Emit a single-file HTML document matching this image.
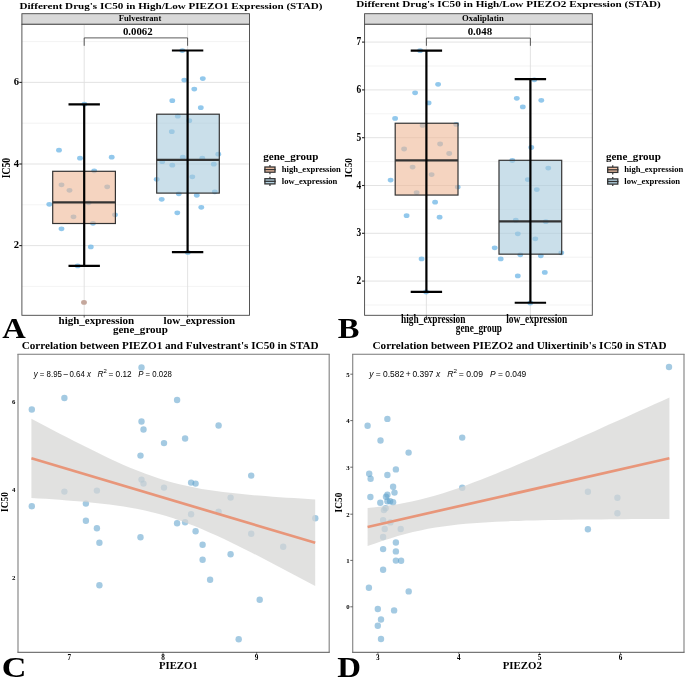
<!DOCTYPE html>
<html><head><meta charset="utf-8"><title>Figure</title>
<style>html,body{margin:0;padding:0;background:#fff}svg{display:block}</style></head>
<body><svg width="685" height="678" viewBox="0 0 685 678">
<rect width="685" height="678" fill="#fff"/>
<text x="19.4" y="9.3" font-size="9.2" text-anchor="start" style="font-family:'Liberation Serif',serif;font-weight:bold" fill="#000" textLength="303.2" lengthAdjust="spacingAndGlyphs">Different Drug's IC50 in High/Low PIEZO1 Expression (STAD)</text>
<rect x="21.9" y="13.7" width="227.6" height="10.600000000000001" fill="#d9d9d9" stroke="#444" stroke-width="0.9"/>
<text x="118.7" y="21.3" font-size="7.3" text-anchor="start" style="font-family:'Liberation Serif',serif;font-weight:bold" fill="#000" textLength="42.6" lengthAdjust="spacingAndGlyphs">Fulvestrant</text>
<rect x="21.9" y="24.3" width="227.6" height="291.0" fill="#fff"/>
<line x1="21.9" x2="249.5" y1="41.6" y2="41.6" stroke="#ebebeb" stroke-width="0.6"/>
<line x1="21.9" x2="249.5" y1="123.2" y2="123.2" stroke="#ebebeb" stroke-width="0.6"/>
<line x1="21.9" x2="249.5" y1="204.8" y2="204.8" stroke="#ebebeb" stroke-width="0.6"/>
<line x1="21.9" x2="249.5" y1="286.4" y2="286.4" stroke="#ebebeb" stroke-width="0.6"/>
<line x1="21.9" x2="249.5" y1="82.4" y2="82.4" stroke="#e0e0e0" stroke-width="0.9"/>
<line x1="21.9" x2="249.5" y1="164.0" y2="164.0" stroke="#e0e0e0" stroke-width="0.9"/>
<line x1="21.9" x2="249.5" y1="245.6" y2="245.6" stroke="#e0e0e0" stroke-width="0.9"/>
<line x1="84.2" x2="84.2" y1="24.3" y2="315.3" stroke="#e0e0e0" stroke-width="0.9"/>
<line x1="187.6" x2="187.6" y1="24.3" y2="315.3" stroke="#e0e0e0" stroke-width="0.9"/>
<g fill="#6db5e6" fill-opacity="0.75">
<ellipse cx="59.0" cy="150.2" rx="2.9" ry="2.4"/>
<ellipse cx="80.0" cy="158.2" rx="2.9" ry="2.4"/>
<ellipse cx="111.7" cy="157.2" rx="2.9" ry="2.4"/>
<ellipse cx="84.4" cy="104.2" rx="2.9" ry="2.4"/>
<ellipse cx="94.2" cy="170.8" rx="2.9" ry="2.4"/>
<ellipse cx="61.5" cy="184.8" rx="2.9" ry="2.4"/>
<ellipse cx="69.5" cy="190.3" rx="2.9" ry="2.4"/>
<ellipse cx="107.2" cy="186.8" rx="2.9" ry="2.4"/>
<ellipse cx="49.3" cy="204.3" rx="2.9" ry="2.4"/>
<ellipse cx="88.6" cy="202.8" rx="2.9" ry="2.4"/>
<ellipse cx="73.5" cy="216.8" rx="2.9" ry="2.4"/>
<ellipse cx="115.0" cy="214.8" rx="2.9" ry="2.4"/>
<ellipse cx="93.0" cy="223.3" rx="2.9" ry="2.4"/>
<ellipse cx="61.5" cy="228.8" rx="2.9" ry="2.4"/>
<ellipse cx="90.8" cy="246.9" rx="2.9" ry="2.4"/>
<ellipse cx="77.7" cy="265.9" rx="2.9" ry="2.4"/>
<ellipse cx="182.3" cy="50.6" rx="2.9" ry="2.4"/>
<ellipse cx="184.3" cy="80.1" rx="2.9" ry="2.4"/>
<ellipse cx="202.8" cy="78.6" rx="2.9" ry="2.4"/>
<ellipse cx="194.3" cy="89.1" rx="2.9" ry="2.4"/>
<ellipse cx="172.3" cy="100.7" rx="2.9" ry="2.4"/>
<ellipse cx="200.8" cy="107.7" rx="2.9" ry="2.4"/>
<ellipse cx="177.8" cy="116.2" rx="2.9" ry="2.4"/>
<ellipse cx="189.3" cy="120.7" rx="2.9" ry="2.4"/>
<ellipse cx="171.8" cy="131.7" rx="2.9" ry="2.4"/>
<ellipse cx="218.3" cy="154.2" rx="2.9" ry="2.4"/>
<ellipse cx="182.8" cy="157.2" rx="2.9" ry="2.4"/>
<ellipse cx="202.3" cy="158.2" rx="2.9" ry="2.4"/>
<ellipse cx="162.2" cy="161.7" rx="2.9" ry="2.4"/>
<ellipse cx="172.3" cy="165.2" rx="2.9" ry="2.4"/>
<ellipse cx="213.8" cy="164.2" rx="2.9" ry="2.4"/>
<ellipse cx="156.7" cy="179.3" rx="2.9" ry="2.4"/>
<ellipse cx="192.3" cy="176.8" rx="2.9" ry="2.4"/>
<ellipse cx="178.8" cy="193.8" rx="2.9" ry="2.4"/>
<ellipse cx="196.8" cy="195.3" rx="2.9" ry="2.4"/>
<ellipse cx="214.8" cy="191.8" rx="2.9" ry="2.4"/>
<ellipse cx="161.7" cy="199.3" rx="2.9" ry="2.4"/>
<ellipse cx="201.3" cy="207.3" rx="2.9" ry="2.4"/>
<ellipse cx="177.3" cy="212.8" rx="2.9" ry="2.4"/>
<ellipse cx="187.8" cy="252.4" rx="2.9" ry="2.4"/>
</g>
<rect x="52.7" y="171.3" width="62.7" height="52.19999999999999" fill="#EEB796" fill-opacity="0.6" stroke="#333" stroke-width="1.2"/>
<line x1="52.7" x2="115.4" y1="202.4" y2="202.4" stroke="#333" stroke-width="2.2"/>
<path d="M68.5 104.3H99.9M68.5 265.9H99.9M84.2 104.3V265.9" stroke="#000" stroke-width="2.2" fill="none"/>
<rect x="156.7" y="114.2" width="62.60000000000002" height="78.89999999999999" fill="#A7CADC" fill-opacity="0.6" stroke="#333" stroke-width="1.2"/>
<line x1="156.7" x2="219.3" y1="159.8" y2="159.8" stroke="#333" stroke-width="2.2"/>
<path d="M171.9 50.5H203.29999999999998M171.9 252.2H203.29999999999998M187.6 50.5V252.2" stroke="#000" stroke-width="2.2" fill="none"/>
<ellipse cx="84" cy="302.4" rx="2.9" ry="2.4" fill="#c4a79c"/>
<path d="M84.2 45.8V37.9H187.6V45.8" stroke="#333" stroke-width="0.8" fill="none"/>
<text x="122.9" y="35.4" font-size="9.5" text-anchor="start" style="font-family:'Liberation Serif',serif;font-weight:bold" fill="#000" textLength="29.7" lengthAdjust="spacingAndGlyphs">0.0062</text>
<rect x="21.9" y="24.3" width="227.6" height="291.0" fill="none" stroke="#444" stroke-width="0.9"/>
<line x1="19.299999999999997" x2="21.9" y1="82.4" y2="82.4" stroke="#222" stroke-width="1.1"/>
<text x="13.7" y="85.10000000000001" font-size="10.6" text-anchor="start" style="font-family:'Liberation Serif',serif;font-weight:bold" fill="#000" textLength="5.3" lengthAdjust="spacingAndGlyphs">6</text>
<line x1="19.299999999999997" x2="21.9" y1="164.0" y2="164.0" stroke="#222" stroke-width="1.1"/>
<text x="13.7" y="166.7" font-size="10.6" text-anchor="start" style="font-family:'Liberation Serif',serif;font-weight:bold" fill="#000" textLength="5.3" lengthAdjust="spacingAndGlyphs">4</text>
<line x1="19.299999999999997" x2="21.9" y1="245.6" y2="245.6" stroke="#222" stroke-width="1.1"/>
<text x="13.7" y="248.29999999999998" font-size="10.6" text-anchor="start" style="font-family:'Liberation Serif',serif;font-weight:bold" fill="#000" textLength="5.3" lengthAdjust="spacingAndGlyphs">2</text>
<line x1="84.2" x2="84.2" y1="315.3" y2="317.5" stroke="#333" stroke-width="0.8"/>
<line x1="187.6" x2="187.6" y1="315.3" y2="317.5" stroke="#333" stroke-width="0.8"/>
<text transform="translate(10.0 178.2) scale(1.28 1) rotate(-90)" font-size="9.2" text-anchor="start" style="font-family:'Liberation Serif',serif;font-weight:bold" fill="#000" textLength="20.4" lengthAdjust="spacingAndGlyphs">IC50</text>
<text x="58.5" y="323.5" font-size="9.9" text-anchor="start" style="font-family:'Liberation Serif',serif;font-weight:bold" fill="#000" textLength="75.7" lengthAdjust="spacingAndGlyphs">high_expression</text>
<text x="163.6" y="323.5" font-size="9.9" text-anchor="start" style="font-family:'Liberation Serif',serif;font-weight:bold" fill="#000" textLength="71.6" lengthAdjust="spacingAndGlyphs">low_expression</text>
<text x="112.9" y="332.5" font-size="11" text-anchor="start" style="font-family:'Liberation Serif',serif;font-weight:bold" fill="#000" textLength="55" lengthAdjust="spacingAndGlyphs">gene_group</text>
<text x="263.2" y="159.5" font-size="11" text-anchor="start" style="font-family:'Liberation Serif',serif;font-weight:bold" fill="#000" textLength="55.2" lengthAdjust="spacingAndGlyphs">gene_group</text>
<line x1="269.95" x2="269.95" y1="165.0" y2="174.20000000000002" stroke="#333" stroke-width="1.2"/>
<rect x="264.9" y="167.0" width="10.1" height="5.2" fill="#fff"/>
<rect x="264.9" y="167.0" width="10.1" height="5.2" fill="#EEB796" fill-opacity="0.85" stroke="#333" stroke-width="1.3"/>
<line x1="264.2" x2="275.7" y1="169.60000000000002" y2="169.60000000000002" stroke="#333" stroke-width="1.3"/>
<text x="281.8" y="171.9" font-size="7.5" text-anchor="start" style="font-family:'Liberation Serif',serif;font-weight:bold" fill="#000" textLength="59.1" lengthAdjust="spacingAndGlyphs">high_expression</text>
<line x1="269.95" x2="269.95" y1="176.7" y2="185.9" stroke="#333" stroke-width="1.2"/>
<rect x="264.9" y="178.7" width="10.1" height="5.2" fill="#fff"/>
<rect x="264.9" y="178.7" width="10.1" height="5.2" fill="#A7CADC" fill-opacity="0.85" stroke="#333" stroke-width="1.3"/>
<line x1="264.2" x2="275.7" y1="181.3" y2="181.3" stroke="#333" stroke-width="1.3"/>
<text x="281.8" y="183.5" font-size="7.5" text-anchor="start" style="font-family:'Liberation Serif',serif;font-weight:bold" fill="#000" textLength="55.6" lengthAdjust="spacingAndGlyphs">low_expression</text>
<text x="356.3" y="6.9" font-size="9.0" text-anchor="start" style="font-family:'Liberation Serif',serif;font-weight:bold" fill="#000" textLength="304.5" lengthAdjust="spacingAndGlyphs">Different Drug's IC50 in High/Low PIEZO2 Expression (STAD)</text>
<rect x="364.6" y="13.7" width="227.69999999999993" height="10.600000000000001" fill="#d9d9d9" stroke="#444" stroke-width="0.9"/>
<text x="461.9" y="21.3" font-size="7.3" text-anchor="start" style="font-family:'Liberation Serif',serif;font-weight:bold" fill="#000" textLength="41.9" lengthAdjust="spacingAndGlyphs">Oxaliplatin</text>
<rect x="364.6" y="24.3" width="227.69999999999993" height="291.0" fill="#fff"/>
<line x1="364.6" x2="592.3" y1="66" y2="66" stroke="#ebebeb" stroke-width="0.6"/>
<line x1="364.6" x2="592.3" y1="113.8" y2="113.8" stroke="#ebebeb" stroke-width="0.6"/>
<line x1="364.6" x2="592.3" y1="161.6" y2="161.6" stroke="#ebebeb" stroke-width="0.6"/>
<line x1="364.6" x2="592.3" y1="209.4" y2="209.4" stroke="#ebebeb" stroke-width="0.6"/>
<line x1="364.6" x2="592.3" y1="257.2" y2="257.2" stroke="#ebebeb" stroke-width="0.6"/>
<line x1="364.6" x2="592.3" y1="305" y2="305" stroke="#ebebeb" stroke-width="0.6"/>
<line x1="364.6" x2="592.3" y1="42.1" y2="42.1" stroke="#e0e0e0" stroke-width="0.9"/>
<line x1="364.6" x2="592.3" y1="89.9" y2="89.9" stroke="#e0e0e0" stroke-width="0.9"/>
<line x1="364.6" x2="592.3" y1="137.7" y2="137.7" stroke="#e0e0e0" stroke-width="0.9"/>
<line x1="364.6" x2="592.3" y1="185.5" y2="185.5" stroke="#e0e0e0" stroke-width="0.9"/>
<line x1="364.6" x2="592.3" y1="233.3" y2="233.3" stroke="#e0e0e0" stroke-width="0.9"/>
<line x1="364.6" x2="592.3" y1="281.1" y2="281.1" stroke="#e0e0e0" stroke-width="0.9"/>
<line x1="426.4" x2="426.4" y1="24.3" y2="315.3" stroke="#e0e0e0" stroke-width="0.9"/>
<line x1="530.4" x2="530.4" y1="24.3" y2="315.3" stroke="#e0e0e0" stroke-width="0.9"/>
<g fill="#6db5e6" fill-opacity="0.75">
<ellipse cx="420.1" cy="50.7" rx="2.9" ry="2.4"/>
<ellipse cx="438.1" cy="84.3" rx="2.9" ry="2.4"/>
<ellipse cx="415.1" cy="92.8" rx="2.9" ry="2.4"/>
<ellipse cx="428.6" cy="102.9" rx="2.9" ry="2.4"/>
<ellipse cx="395.1" cy="118.4" rx="2.9" ry="2.4"/>
<ellipse cx="422.6" cy="125.4" rx="2.9" ry="2.4"/>
<ellipse cx="456.2" cy="124.4" rx="2.9" ry="2.4"/>
<ellipse cx="404.1" cy="149.0" rx="2.9" ry="2.4"/>
<ellipse cx="440.1" cy="144.0" rx="2.9" ry="2.4"/>
<ellipse cx="449.2" cy="153.5" rx="2.9" ry="2.4"/>
<ellipse cx="412.6" cy="167.1" rx="2.9" ry="2.4"/>
<ellipse cx="431.6" cy="174.6" rx="2.9" ry="2.4"/>
<ellipse cx="390.6" cy="180.1" rx="2.9" ry="2.4"/>
<ellipse cx="457.7" cy="187.1" rx="2.9" ry="2.4"/>
<ellipse cx="416.6" cy="192.6" rx="2.9" ry="2.4"/>
<ellipse cx="435.1" cy="202.2" rx="2.9" ry="2.4"/>
<ellipse cx="406.6" cy="215.7" rx="2.9" ry="2.4"/>
<ellipse cx="439.6" cy="217.2" rx="2.9" ry="2.4"/>
<ellipse cx="421.6" cy="258.9" rx="2.9" ry="2.4"/>
<ellipse cx="426.1" cy="292.0" rx="2.9" ry="2.4"/>
<ellipse cx="534.3" cy="79.8" rx="2.9" ry="2.4"/>
<ellipse cx="516.8" cy="98.3" rx="2.9" ry="2.4"/>
<ellipse cx="541.3" cy="100.3" rx="2.9" ry="2.4"/>
<ellipse cx="522.8" cy="106.9" rx="2.9" ry="2.4"/>
<ellipse cx="531.3" cy="147.5" rx="2.9" ry="2.4"/>
<ellipse cx="512.3" cy="160.5" rx="2.9" ry="2.4"/>
<ellipse cx="548.3" cy="168.1" rx="2.9" ry="2.4"/>
<ellipse cx="527.8" cy="179.6" rx="2.9" ry="2.4"/>
<ellipse cx="536.8" cy="189.6" rx="2.9" ry="2.4"/>
<ellipse cx="515.8" cy="220.2" rx="2.9" ry="2.4"/>
<ellipse cx="545.8" cy="221.7" rx="2.9" ry="2.4"/>
<ellipse cx="517.8" cy="233.8" rx="2.9" ry="2.4"/>
<ellipse cx="535.3" cy="238.8" rx="2.9" ry="2.4"/>
<ellipse cx="494.7" cy="247.8" rx="2.9" ry="2.4"/>
<ellipse cx="561.3" cy="252.8" rx="2.9" ry="2.4"/>
<ellipse cx="500.7" cy="258.9" rx="2.9" ry="2.4"/>
<ellipse cx="520.3" cy="254.8" rx="2.9" ry="2.4"/>
<ellipse cx="540.8" cy="255.8" rx="2.9" ry="2.4"/>
<ellipse cx="544.8" cy="272.4" rx="2.9" ry="2.4"/>
<ellipse cx="517.8" cy="275.9" rx="2.9" ry="2.4"/>
<ellipse cx="530.3" cy="303.0" rx="2.9" ry="2.4"/>
</g>
<rect x="395.2" y="123.24" width="62.80000000000001" height="71.82000000000001" fill="#EEB796" fill-opacity="0.6" stroke="#333" stroke-width="1.2"/>
<line x1="395.2" x2="458" y1="160.3" y2="160.3" stroke="#333" stroke-width="2.2"/>
<path d="M410.7 50.61H442.09999999999997M410.7 291.82H442.09999999999997M426.4 50.61V291.82" stroke="#000" stroke-width="2.2" fill="none"/>
<rect x="499" y="160.3" width="62.700000000000045" height="93.85999999999999" fill="#A7CADC" fill-opacity="0.6" stroke="#333" stroke-width="1.2"/>
<line x1="499" x2="561.7" y1="221.4" y2="221.4" stroke="#333" stroke-width="2.2"/>
<path d="M514.6999999999999 79.16H546.1M514.6999999999999 302.74H546.1M530.4 79.16V302.74" stroke="#000" stroke-width="2.2" fill="none"/>
<path d="M426.4 45.8V38.1H530.4V45.8" stroke="#333" stroke-width="0.8" fill="none"/>
<text x="467.7" y="35.4" font-size="9.5" text-anchor="start" style="font-family:'Liberation Serif',serif;font-weight:bold" fill="#000" textLength="24.4" lengthAdjust="spacingAndGlyphs">0.048</text>
<rect x="364.6" y="24.3" width="227.69999999999993" height="291.0" fill="none" stroke="#444" stroke-width="0.9"/>
<line x1="362.0" x2="364.6" y1="42.1" y2="42.1" stroke="#222" stroke-width="1.1"/>
<text x="356.6" y="45.1" font-size="13" text-anchor="start" style="font-family:'Liberation Serif',serif;font-weight:bold" fill="#000" textLength="4.7" lengthAdjust="spacingAndGlyphs">7</text>
<line x1="362.0" x2="364.6" y1="89.9" y2="89.9" stroke="#222" stroke-width="1.1"/>
<text x="356.6" y="92.9" font-size="13" text-anchor="start" style="font-family:'Liberation Serif',serif;font-weight:bold" fill="#000" textLength="4.7" lengthAdjust="spacingAndGlyphs">6</text>
<line x1="362.0" x2="364.6" y1="137.7" y2="137.7" stroke="#222" stroke-width="1.1"/>
<text x="356.6" y="140.7" font-size="13" text-anchor="start" style="font-family:'Liberation Serif',serif;font-weight:bold" fill="#000" textLength="4.7" lengthAdjust="spacingAndGlyphs">5</text>
<line x1="362.0" x2="364.6" y1="185.5" y2="185.5" stroke="#222" stroke-width="1.1"/>
<text x="356.6" y="188.5" font-size="13" text-anchor="start" style="font-family:'Liberation Serif',serif;font-weight:bold" fill="#000" textLength="4.7" lengthAdjust="spacingAndGlyphs">4</text>
<line x1="362.0" x2="364.6" y1="233.3" y2="233.3" stroke="#222" stroke-width="1.1"/>
<text x="356.6" y="236.3" font-size="13" text-anchor="start" style="font-family:'Liberation Serif',serif;font-weight:bold" fill="#000" textLength="4.7" lengthAdjust="spacingAndGlyphs">3</text>
<line x1="362.0" x2="364.6" y1="281.1" y2="281.1" stroke="#222" stroke-width="1.1"/>
<text x="356.6" y="284.1" font-size="13" text-anchor="start" style="font-family:'Liberation Serif',serif;font-weight:bold" fill="#000" textLength="4.7" lengthAdjust="spacingAndGlyphs">2</text>
<line x1="426.4" x2="426.4" y1="315.3" y2="317.5" stroke="#333" stroke-width="0.8"/>
<line x1="530.4" x2="530.4" y1="315.3" y2="317.5" stroke="#333" stroke-width="0.8"/>
<text transform="translate(352.4 177.6) scale(1.2 1) rotate(-90)" font-size="9.2" text-anchor="start" style="font-family:'Liberation Serif',serif;font-weight:bold" fill="#000" textLength="19.5" lengthAdjust="spacingAndGlyphs">IC50</text>
<text x="401.0" y="323.3" font-size="11.6" text-anchor="start" style="font-family:'Liberation Serif',serif;font-weight:bold" fill="#000" textLength="64.5" lengthAdjust="spacingAndGlyphs">high_expression</text>
<text x="506.2" y="323.3" font-size="11.6" text-anchor="start" style="font-family:'Liberation Serif',serif;font-weight:bold" fill="#000" textLength="61.1" lengthAdjust="spacingAndGlyphs">low_expression</text>
<text x="455.8" y="332.2" font-size="11.6" text-anchor="start" style="font-family:'Liberation Serif',serif;font-weight:bold" fill="#000" textLength="46.2" lengthAdjust="spacingAndGlyphs">gene_group</text>
<text x="605.9" y="159.5" font-size="11" text-anchor="start" style="font-family:'Liberation Serif',serif;font-weight:bold" fill="#000" textLength="55" lengthAdjust="spacingAndGlyphs">gene_group</text>
<line x1="612.75" x2="612.75" y1="165.2" y2="174.4" stroke="#333" stroke-width="1.2"/>
<rect x="607.7" y="167.2" width="10.1" height="5.2" fill="#fff"/>
<rect x="607.7" y="167.2" width="10.1" height="5.2" fill="#EEB796" fill-opacity="0.85" stroke="#333" stroke-width="1.3"/>
<line x1="607.0" x2="618.5" y1="169.8" y2="169.8" stroke="#333" stroke-width="1.3"/>
<text x="624.3" y="171.9" font-size="7.5" text-anchor="start" style="font-family:'Liberation Serif',serif;font-weight:bold" fill="#000" textLength="59" lengthAdjust="spacingAndGlyphs">high_expression</text>
<line x1="612.75" x2="612.75" y1="176.89999999999998" y2="186.1" stroke="#333" stroke-width="1.2"/>
<rect x="607.7" y="178.89999999999998" width="10.1" height="5.2" fill="#fff"/>
<rect x="607.7" y="178.89999999999998" width="10.1" height="5.2" fill="#A7CADC" fill-opacity="0.85" stroke="#333" stroke-width="1.3"/>
<line x1="607.0" x2="618.5" y1="181.5" y2="181.5" stroke="#333" stroke-width="1.3"/>
<text x="624.3" y="183.5" font-size="7.5" text-anchor="start" style="font-family:'Liberation Serif',serif;font-weight:bold" fill="#000" textLength="55.7" lengthAdjust="spacingAndGlyphs">low_expression</text>
<text x="21.7" y="348.8" font-size="9.8" text-anchor="start" style="font-family:'Liberation Serif',serif;font-weight:bold" fill="#000" textLength="297" lengthAdjust="spacingAndGlyphs">Correlation between PIEZO1 and Fulvestrant's IC50 in STAD</text>
<rect x="18.0" y="354.2" width="311.2" height="297.8" fill="#fff"/>
<g fill="#5a9fca" fill-opacity="0.55">
<circle cx="31.8" cy="409.5" r="3.2"/>
<circle cx="31.8" cy="506.2" r="3.2"/>
<circle cx="64.4" cy="398.0" r="3.2"/>
<circle cx="64.4" cy="491.6" r="3.2"/>
<circle cx="85.9" cy="503.6" r="3.2"/>
<circle cx="85.9" cy="520.7" r="3.2"/>
<circle cx="96.9" cy="490.6" r="3.2"/>
<circle cx="96.9" cy="528.2" r="3.2"/>
<circle cx="99.4" cy="542.7" r="3.2"/>
<circle cx="99.4" cy="585.3" r="3.2"/>
<circle cx="141.5" cy="367.4" r="3.2"/>
<circle cx="141.5" cy="421.5" r="3.2"/>
<circle cx="143.5" cy="429.5" r="3.2"/>
<circle cx="140.5" cy="455.6" r="3.2"/>
<circle cx="141.5" cy="479.6" r="3.2"/>
<circle cx="143.5" cy="483.6" r="3.2"/>
<circle cx="140.5" cy="537.2" r="3.2"/>
<circle cx="164.0" cy="443.1" r="3.2"/>
<circle cx="164.0" cy="487.6" r="3.2"/>
<circle cx="177.1" cy="400.0" r="3.2"/>
<circle cx="177.1" cy="523.2" r="3.2"/>
<circle cx="185.1" cy="438.5" r="3.2"/>
<circle cx="185.1" cy="522.2" r="3.2"/>
<circle cx="191.1" cy="482.6" r="3.2"/>
<circle cx="195.6" cy="483.6" r="3.2"/>
<circle cx="191.1" cy="514.2" r="3.2"/>
<circle cx="195.6" cy="531.2" r="3.2"/>
<circle cx="202.6" cy="544.7" r="3.2"/>
<circle cx="202.6" cy="559.7" r="3.2"/>
<circle cx="210.1" cy="579.8" r="3.2"/>
<circle cx="218.6" cy="425.5" r="3.2"/>
<circle cx="218.6" cy="511.7" r="3.2"/>
<circle cx="230.6" cy="497.6" r="3.2"/>
<circle cx="230.6" cy="554.2" r="3.2"/>
<circle cx="238.7" cy="639.3" r="3.2"/>
<circle cx="251.2" cy="475.6" r="3.2"/>
<circle cx="251.2" cy="533.7" r="3.2"/>
<circle cx="259.7" cy="599.8" r="3.2"/>
<circle cx="283.2" cy="546.7" r="3.2"/>
<circle cx="315.3" cy="518.2" r="3.2"/>
</g>
<path d="M31.4 418.7 L38.5 422.4 L45.6 426.2 L52.7 429.9 L59.8 433.7 L66.9 437.3 L74.0 441.0 L81.1 444.6 L88.2 448.1 L95.3 451.6 L102.3 455.1 L109.4 458.4 L116.5 461.7 L123.6 464.9 L130.7 467.9 L137.8 470.8 L144.9 473.6 L152.0 476.1 L159.1 478.5 L166.2 480.7 L173.3 482.7 L180.4 484.5 L187.5 486.1 L194.6 487.6 L201.7 488.9 L208.8 490.0 L215.9 491.0 L223.0 492.0 L230.1 492.8 L237.2 493.6 L244.2 494.3 L251.3 495.0 L258.4 495.6 L265.5 496.1 L272.6 496.7 L279.7 497.2 L286.8 497.7 L293.9 498.1 L301.0 498.6 L308.1 499.0 L315.2 499.4 L315.2 586.1 L308.1 582.3 L301.0 578.5 L293.9 574.7 L286.8 570.9 L279.7 567.2 L272.6 563.5 L265.5 559.8 L258.4 556.1 L251.3 552.5 L244.2 549.0 L237.2 545.5 L230.1 542.0 L223.0 538.6 L215.9 535.3 L208.8 532.2 L201.7 529.1 L194.6 526.1 L187.5 523.4 L180.4 520.8 L173.3 518.3 L166.2 516.1 L159.1 514.1 L152.0 512.2 L144.9 510.6 L137.8 509.1 L130.7 507.8 L123.6 506.6 L116.5 505.6 L109.4 504.6 L102.3 503.7 L95.3 503.0 L88.2 502.2 L81.1 501.6 L74.0 501.0 L66.9 500.4 L59.8 499.8 L52.7 499.3 L45.6 498.8 L38.5 498.4 L31.4 497.9Z" fill="#d6d6d4" fill-opacity="0.72"/>
<line x1="31.4" y1="458.3" x2="315.2" y2="542.8" stroke="#e8967a" stroke-width="2.7"/>
<path d="M18.0 354.2V652.3M329.2 354.2V652.3" fill="none" stroke="#8a8a8a" stroke-width="1.2"/>
<path d="M17.4 354.2H329.8" fill="none" stroke="#777" stroke-width="1.1"/>
<path d="M17.4 652.3H329.8" fill="none" stroke="#555" stroke-width="1"/>
<text x="11.9" y="403.6" font-size="6.8" text-anchor="start" style="font-family:'Liberation Serif',serif;font-weight:bold" fill="#000" textLength="3.4" lengthAdjust="spacingAndGlyphs">6</text>
<text x="11.9" y="491.7" font-size="6.8" text-anchor="start" style="font-family:'Liberation Serif',serif;font-weight:bold" fill="#000" textLength="3.4" lengthAdjust="spacingAndGlyphs">4</text>
<text x="11.9" y="579.7" font-size="6.8" text-anchor="start" style="font-family:'Liberation Serif',serif;font-weight:bold" fill="#000" textLength="3.4" lengthAdjust="spacingAndGlyphs">2</text>
<text x="67.60000000000001" y="659.8" font-size="7.8" text-anchor="start" style="font-family:'Liberation Serif',serif;font-weight:bold" fill="#000" textLength="3.6" lengthAdjust="spacingAndGlyphs">7</text>
<line x1="163.0" x2="163.0" y1="652.0" y2="654.2" stroke="#444" stroke-width="0.7"/>
<text x="161.2" y="659.8" font-size="7.8" text-anchor="start" style="font-family:'Liberation Serif',serif;font-weight:bold" fill="#000" textLength="3.6" lengthAdjust="spacingAndGlyphs">8</text>
<line x1="256.6" x2="256.6" y1="652.0" y2="654.2" stroke="#444" stroke-width="0.7"/>
<text x="254.8" y="659.8" font-size="7.8" text-anchor="start" style="font-family:'Liberation Serif',serif;font-weight:bold" fill="#000" textLength="3.6" lengthAdjust="spacingAndGlyphs">9</text>
<text x="33.7" y="376.8" font-size="8.6" style="font-family:'Liberation Sans',sans-serif;font-weight:normal" fill="#000" textLength="57.2" lengthAdjust="spacingAndGlyphs"><tspan font-style="italic">y</tspan> = 8.95 – 0.64 <tspan font-style="italic">x</tspan></text>
<text x="97.5" y="376.8" font-size="8.6" style="font-family:'Liberation Sans',sans-serif;font-weight:normal" fill="#000" textLength="34.2" lengthAdjust="spacingAndGlyphs"><tspan font-style="italic">R</tspan><tspan font-size="6.2" dy="-3.8">2</tspan><tspan dy="3.8"> </tspan>= 0.12</text>
<text x="138.2" y="376.8" font-size="8.6" style="font-family:'Liberation Sans',sans-serif;font-weight:normal" fill="#000" textLength="33.7" lengthAdjust="spacingAndGlyphs"><tspan font-style="italic">P</tspan> = 0.028</text>
<text x="159" y="669.0" font-size="9.8" text-anchor="start" style="font-family:'Liberation Serif',serif;font-weight:bold" fill="#000" textLength="38.7" lengthAdjust="spacingAndGlyphs">PIEZO1</text>
<text transform="translate(8.0 511.9) scale(1.2 1) rotate(-90)" font-size="9.2" text-anchor="start" style="font-family:'Liberation Serif',serif;font-weight:bold" fill="#000" textLength="19.7" lengthAdjust="spacingAndGlyphs">IC50</text>
<text x="372.5" y="348.8" font-size="9.8" text-anchor="start" style="font-family:'Liberation Serif',serif;font-weight:bold" fill="#000" textLength="294" lengthAdjust="spacingAndGlyphs">Correlation between PIEZO2 and Ulixertinib's IC50 in STAD</text>
<rect x="352.7" y="354.2" width="331.3" height="297.8" fill="#fff"/>
<g fill="#5a9fca" fill-opacity="0.55">
<circle cx="387.4" cy="418.9" r="3.2"/>
<circle cx="367.6" cy="425.8" r="3.2"/>
<circle cx="380.5" cy="440.5" r="3.2"/>
<circle cx="408.6" cy="452.6" r="3.2"/>
<circle cx="395.9" cy="469.4" r="3.2"/>
<circle cx="369.2" cy="473.8" r="3.2"/>
<circle cx="370.6" cy="478.8" r="3.2"/>
<circle cx="387.4" cy="475.0" r="3.2"/>
<circle cx="393.1" cy="486.7" r="3.2"/>
<circle cx="394.5" cy="492.6" r="3.2"/>
<circle cx="387.4" cy="494.7" r="3.2"/>
<circle cx="386.0" cy="496.8" r="3.2"/>
<circle cx="370.4" cy="497.0" r="3.2"/>
<circle cx="380.3" cy="502.7" r="3.2"/>
<circle cx="387.4" cy="501.2" r="3.2"/>
<circle cx="390.1" cy="501.2" r="3.2"/>
<circle cx="393.1" cy="502.3" r="3.2"/>
<circle cx="385.6" cy="508.3" r="3.2"/>
<circle cx="383.9" cy="510.1" r="3.2"/>
<circle cx="383.1" cy="520.1" r="3.2"/>
<circle cx="390.4" cy="522.4" r="3.2"/>
<circle cx="384.7" cy="529.0" r="3.2"/>
<circle cx="400.7" cy="529.0" r="3.2"/>
<circle cx="383.1" cy="537.0" r="3.2"/>
<circle cx="395.9" cy="542.5" r="3.2"/>
<circle cx="383.1" cy="549.1" r="3.2"/>
<circle cx="395.9" cy="551.4" r="3.2"/>
<circle cx="395.9" cy="560.6" r="3.2"/>
<circle cx="401.1" cy="560.8" r="3.2"/>
<circle cx="383.1" cy="569.7" r="3.2"/>
<circle cx="368.9" cy="587.8" r="3.2"/>
<circle cx="408.7" cy="591.4" r="3.2"/>
<circle cx="377.8" cy="609.0" r="3.2"/>
<circle cx="394.1" cy="610.4" r="3.2"/>
<circle cx="381.0" cy="619.5" r="3.2"/>
<circle cx="377.8" cy="625.7" r="3.2"/>
<circle cx="381.0" cy="639.0" r="3.2"/>
<circle cx="462.2" cy="437.6" r="3.2"/>
<circle cx="462.2" cy="487.7" r="3.2"/>
<circle cx="587.9" cy="491.7" r="3.2"/>
<circle cx="587.9" cy="529.3" r="3.2"/>
<circle cx="617.4" cy="497.7" r="3.2"/>
<circle cx="617.4" cy="513.3" r="3.2"/>
<circle cx="669.0" cy="367.0" r="3.2"/>
</g>
<path d="M367.6 507.9 L375.1 507.2 L382.7 506.3 L390.2 505.3 L397.8 504.2 L405.3 502.8 L412.9 501.3 L420.4 499.6 L428.0 497.6 L435.5 495.5 L443.1 493.2 L450.6 490.8 L458.1 488.2 L465.7 485.5 L473.2 482.6 L480.8 479.7 L488.3 476.8 L495.9 473.7 L503.4 470.6 L511.0 467.5 L518.5 464.3 L526.0 461.1 L533.6 457.9 L541.1 454.6 L548.7 451.3 L556.2 448.1 L563.8 444.7 L571.3 441.4 L578.9 438.1 L586.4 434.7 L594.0 431.4 L601.5 428.0 L609.0 424.6 L616.6 421.3 L624.1 417.9 L631.7 414.5 L639.2 411.1 L646.8 407.7 L654.3 404.3 L661.9 400.9 L669.4 397.4 L669.4 519.0 L661.9 519.0 L654.3 519.0 L646.8 519.0 L639.2 519.1 L631.7 519.1 L624.1 519.2 L616.6 519.2 L609.0 519.3 L601.5 519.4 L594.0 519.4 L586.4 519.5 L578.9 519.6 L571.3 519.7 L563.8 519.8 L556.2 519.9 L548.7 520.1 L541.1 520.3 L533.6 520.4 L526.0 520.6 L518.5 520.9 L511.0 521.1 L503.4 521.4 L495.9 521.8 L488.3 522.2 L480.8 522.7 L473.2 523.2 L465.7 523.8 L458.1 524.5 L450.6 525.4 L443.1 526.4 L435.5 527.5 L428.0 528.8 L420.4 530.4 L412.9 532.1 L405.3 534.0 L397.8 536.1 L390.2 538.4 L382.7 540.8 L375.1 543.4 L367.6 546.1Z" fill="#d6d6d4" fill-opacity="0.72"/>
<line x1="367.6" y1="527.0" x2="669.4" y2="458.2" stroke="#e8967a" stroke-width="2.7"/>
<path d="M352.7 354.2V652.3M684.0 354.2V652.3" fill="none" stroke="#8a8a8a" stroke-width="1.2"/>
<path d="M352.09999999999997 354.2H684.6" fill="none" stroke="#777" stroke-width="1.1"/>
<path d="M352.09999999999997 652.3H684.6" fill="none" stroke="#555" stroke-width="1"/>
<line x1="350.3" x2="352.7" y1="374.2" y2="374.2" stroke="#444" stroke-width="0.8"/>
<text x="346.2" y="376.59999999999997" font-size="6.8" text-anchor="start" style="font-family:'Liberation Serif',serif;font-weight:bold" fill="#000" textLength="3.4" lengthAdjust="spacingAndGlyphs">5</text>
<line x1="350.3" x2="352.7" y1="420.6" y2="420.6" stroke="#444" stroke-width="0.8"/>
<text x="346.2" y="423.0" font-size="6.8" text-anchor="start" style="font-family:'Liberation Serif',serif;font-weight:bold" fill="#000" textLength="3.4" lengthAdjust="spacingAndGlyphs">4</text>
<line x1="350.3" x2="352.7" y1="467.2" y2="467.2" stroke="#444" stroke-width="0.8"/>
<text x="346.2" y="469.59999999999997" font-size="6.8" text-anchor="start" style="font-family:'Liberation Serif',serif;font-weight:bold" fill="#000" textLength="3.4" lengthAdjust="spacingAndGlyphs">3</text>
<line x1="350.3" x2="352.7" y1="514.2" y2="514.2" stroke="#444" stroke-width="0.8"/>
<text x="346.2" y="516.6" font-size="6.8" text-anchor="start" style="font-family:'Liberation Serif',serif;font-weight:bold" fill="#000" textLength="3.4" lengthAdjust="spacingAndGlyphs">2</text>
<line x1="350.3" x2="352.7" y1="560.4" y2="560.4" stroke="#444" stroke-width="0.8"/>
<text x="346.2" y="562.8" font-size="6.8" text-anchor="start" style="font-family:'Liberation Serif',serif;font-weight:bold" fill="#000" textLength="3.4" lengthAdjust="spacingAndGlyphs">1</text>
<line x1="350.3" x2="352.7" y1="606.8" y2="606.8" stroke="#444" stroke-width="0.8"/>
<text x="346.2" y="609.1999999999999" font-size="6.8" text-anchor="start" style="font-family:'Liberation Serif',serif;font-weight:bold" fill="#000" textLength="3.4" lengthAdjust="spacingAndGlyphs">0</text>
<line x1="377.9" x2="377.9" y1="652.0" y2="654.2" stroke="#444" stroke-width="0.7"/>
<text x="376.09999999999997" y="659.8" font-size="7.8" text-anchor="start" style="font-family:'Liberation Serif',serif;font-weight:bold" fill="#000" textLength="3.6" lengthAdjust="spacingAndGlyphs">3</text>
<line x1="458.8" x2="458.8" y1="652.0" y2="654.2" stroke="#444" stroke-width="0.7"/>
<text x="457.0" y="659.8" font-size="7.8" text-anchor="start" style="font-family:'Liberation Serif',serif;font-weight:bold" fill="#000" textLength="3.6" lengthAdjust="spacingAndGlyphs">4</text>
<line x1="539.6" x2="539.6" y1="652.0" y2="654.2" stroke="#444" stroke-width="0.7"/>
<text x="537.8000000000001" y="659.8" font-size="7.8" text-anchor="start" style="font-family:'Liberation Serif',serif;font-weight:bold" fill="#000" textLength="3.6" lengthAdjust="spacingAndGlyphs">5</text>
<line x1="620.5" x2="620.5" y1="652.0" y2="654.2" stroke="#444" stroke-width="0.7"/>
<text x="618.7" y="659.8" font-size="7.8" text-anchor="start" style="font-family:'Liberation Serif',serif;font-weight:bold" fill="#000" textLength="3.6" lengthAdjust="spacingAndGlyphs">6</text>
<text x="369.2" y="376.8" font-size="8.6" style="font-family:'Liberation Sans',sans-serif;font-weight:normal" fill="#000" textLength="70.9" lengthAdjust="spacingAndGlyphs"><tspan font-style="italic">y</tspan> = 0.582 + 0.397 <tspan font-style="italic">x</tspan></text>
<text x="447.2" y="376.8" font-size="8.6" style="font-family:'Liberation Sans',sans-serif;font-weight:normal" fill="#000" textLength="35.8" lengthAdjust="spacingAndGlyphs"><tspan font-style="italic">R</tspan><tspan font-size="6.2" dy="-3.8">2</tspan><tspan dy="3.8"> </tspan>= 0.09</text>
<text x="490.1" y="376.8" font-size="8.6" style="font-family:'Liberation Sans',sans-serif;font-weight:normal" fill="#000" textLength="36.2" lengthAdjust="spacingAndGlyphs"><tspan font-style="italic">P</tspan> = 0.049</text>
<text x="502.7" y="669.0" font-size="9.8" text-anchor="start" style="font-family:'Liberation Serif',serif;font-weight:bold" fill="#000" textLength="39.2" lengthAdjust="spacingAndGlyphs">PIEZO2</text>
<text transform="translate(342.0 512.4) scale(1.23 1) rotate(-90)" font-size="9.2" text-anchor="start" style="font-family:'Liberation Serif',serif;font-weight:bold" fill="#000" textLength="19.7" lengthAdjust="spacingAndGlyphs">IC50</text>
<text x="2.3" y="337.5" font-size="29.2" text-anchor="start" style="font-family:'Liberation Serif',serif;font-weight:bold" fill="#000" textLength="23.5" lengthAdjust="spacingAndGlyphs">A</text>
<text x="337.7" y="338.3" font-size="29.6" text-anchor="start" style="font-family:'Liberation Serif',serif;font-weight:bold" fill="#000" textLength="21.7" lengthAdjust="spacingAndGlyphs">B</text>
<text x="1.7" y="677.2" font-size="30" text-anchor="start" style="font-family:'Liberation Serif',serif;font-weight:bold" fill="#000" textLength="24.7" lengthAdjust="spacingAndGlyphs">C</text>
<text x="337.3" y="676.5" font-size="29.7" text-anchor="start" style="font-family:'Liberation Serif',serif;font-weight:bold" fill="#000" textLength="23.75" lengthAdjust="spacingAndGlyphs">D</text>
</svg></body></html>
